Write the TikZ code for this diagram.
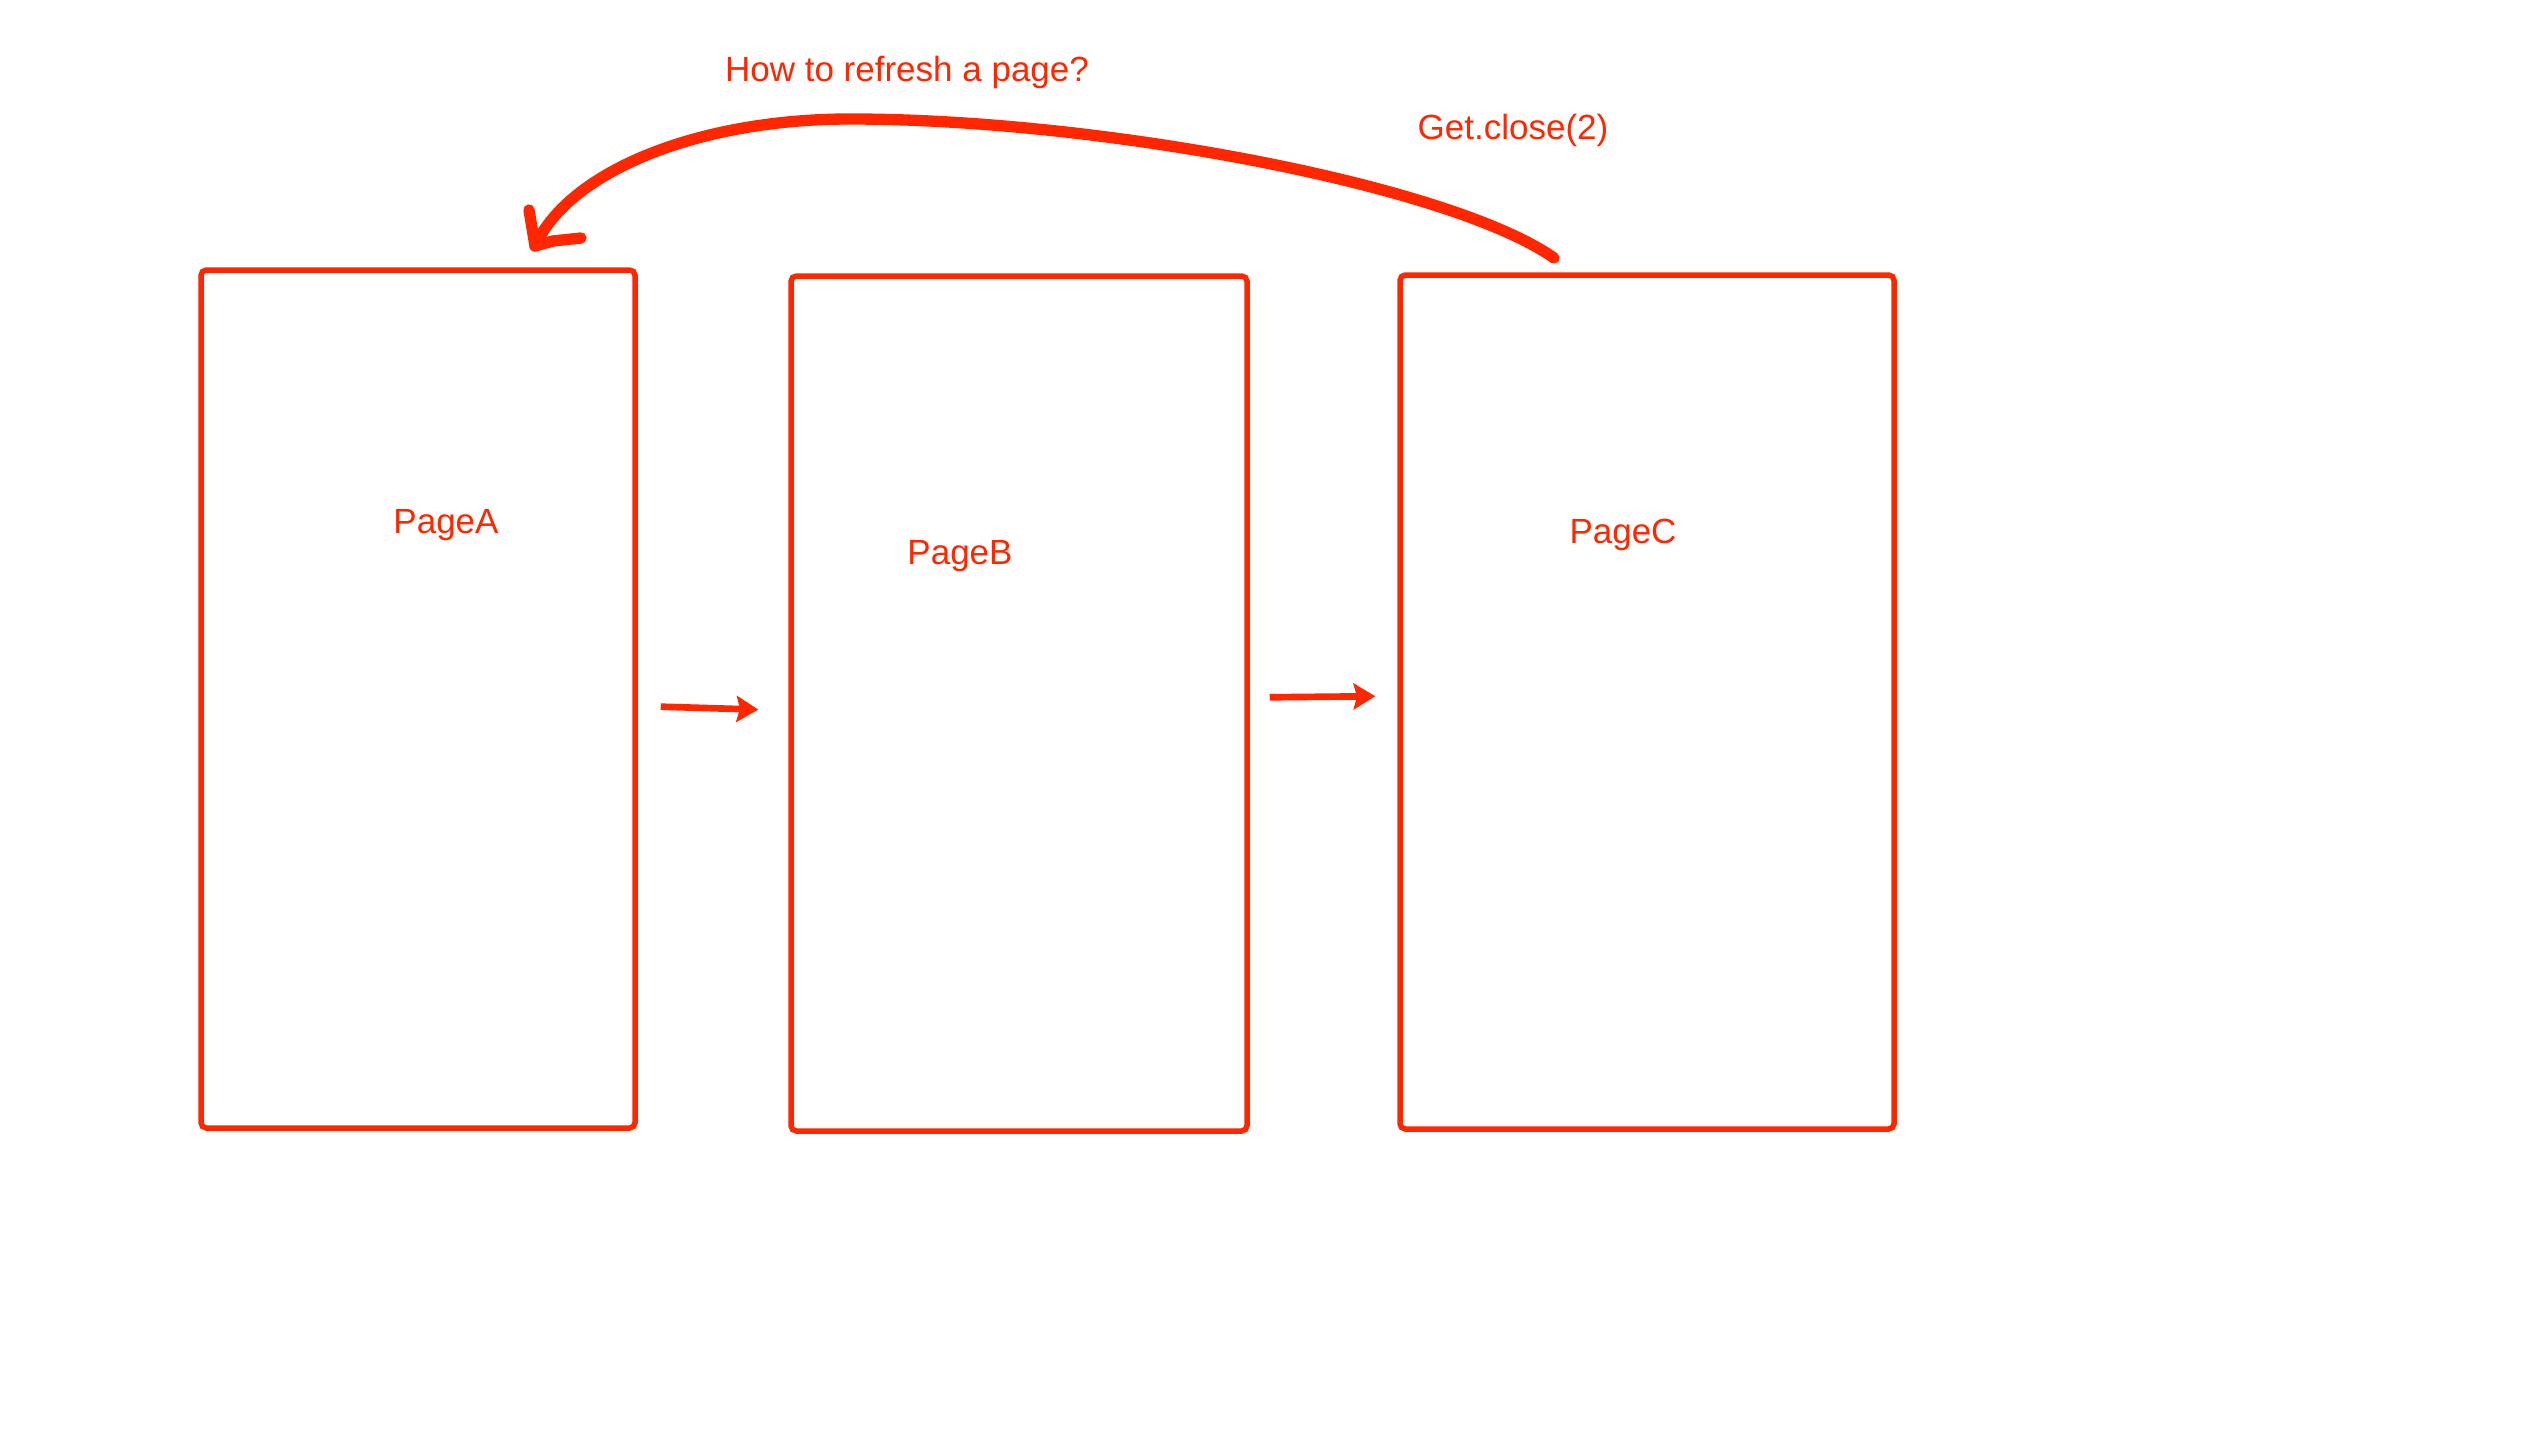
\documentclass[tikz,border=0pt]{standalone}
\usepackage{fontspec}
\setmainfont{Liberation Sans}
\usetikzlibrary{arrows.meta}
\definecolor{inkred}{RGB}{255,38,0}
\tikzset{
  pagebox/.style={draw=inkred, line width=1.65pt, rounded corners=1.6pt, inner sep=0pt},
  pagetext/.style={text=inkred, anchor=base, inner sep=0pt, font=\fontsize{10.5}{12}\selectfont},
  flow/.style={draw=inkred, line width=2pt, -{Stealth[length=6.5pt,width=7.8pt,inset=1pt]}},
  stroke/.style={draw=inkred, line width=3.4pt, line cap=round, line join=round}
}
\begin{document}
\begin{tikzpicture}[x=0.3pt,y=0.3pt,yscale=-1,xscale=1]
\useasboundingbox (0,0) rectangle (2524,1430);

%Shape: Rectangle [PageA]
\node [pagebox, minimum width=130.2pt, minimum height=257.4pt] (pageA) at (418,699) {};
%Shape: Rectangle [PageB]
\node [pagebox, minimum width=136.8pt, minimum height=256.5pt] (pageB) at (1019,703.5) {};
%Shape: Rectangle [PageC]
\node [pagebox, minimum width=148.2pt, minimum height=256.2pt] (pageC) at (1647,702) {};

% Text Node
\node [pagetext] (labelA) at (446,534) {PageA};
% Text Node
\node [pagetext] (labelB) at (960,564) {PageB};
% Text Node
\node [pagetext] (labelC) at (1623,544) {PageC};
% Text Node
\node [pagetext] (question) at (907,82) {How to refresh a page?};
% Text Node
\node [pagetext] (closeCall) at (1513,140) {Get.close(2)};

%Straight Lines [PageA -> PageB]
\draw [flow, shorten <=6.9pt, shorten >=9pt] ([yshift=2.1pt]pageA.east) -- ([yshift=2.1pt]pageB.west);
%Straight Lines [PageB -> PageC]
\draw [flow, shorten <=6pt, shorten >=6.6pt] ([yshift=-1.8pt]pageB.east) -- ([yshift=-1.8pt]pageC.west);

%Curve Lines [PageC back to PageA]
\coordinate (backStart) at (1554,258);
\coordinate (backTop) at (850,119);
\coordinate (backTip) at (535,246);
\draw [stroke] (backStart) .. controls (1450,185) and (1100,119) .. (backTop)
  .. controls (700,119) and (570,170) .. (backTip);
%Hand drawn head
\draw [stroke] (529,210) -- (backTip) -- (553,241) -- (581,238);

\end{tikzpicture}
\end{document}
